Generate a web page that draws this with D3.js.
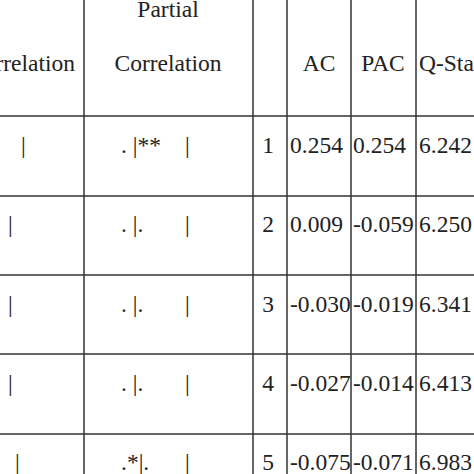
<!DOCTYPE html><html><head><meta charset="utf-8"><script src="https://cdn.jsdelivr.net/npm/d3@7"></script>
<style>body{margin:0;background:#fff}svg{display:block}</style></head><body><svg width="474" height="474"></svg>
<script>
const lags=[1,2,3,4,5];
const acf=["0.254","0.009","-0.030","-0.027","-0.075"];
const pacf=["0.254","-0.059","-0.019","-0.014","-0.071"];
const qstat=["6.242","6.250","6.341","6.413","6.983"];
const pcBars=[". |**",". |.",". |.",". |.",".*|."];
const acBarX=[21,8,8,8,15];
const svg=d3.select("svg");
const y=d3.scaleBand().domain(lags).range([116,513]);
const F="Liberation Serif, Times New Roman, serif", fs=23.5, c="#222";
const vx=[84,253,287,351,416];
const hy=[116,196,275,354,434];
vx.forEach(x=>svg.append("line").attr("x1",x).attr("x2",x).attr("y1",-5).attr("y2",480).attr("stroke","#333").attr("stroke-width",1.5));
hy.forEach(v=>svg.append("line").attr("x1",0).attr("x2",474).attr("y1",v).attr("y2",v).attr("stroke","#333").attr("stroke-width",1.5));
function t(x,yy,s,anchor){return svg.append("text").attr("x",x).attr("y",yy).attr("font-family",F).attr("font-size",fs).attr("fill",c).attr("text-anchor",anchor||"start").attr("xml:space","preserve").text(s);}
t(75,71,"Correlation","end");
t(168,17,"Partial","middle");
t(168,71,"Correlation","middle");
t(319,71,"AC","middle");
t(383,71,"PAC","middle");
t(419,71,"Q-Stat");
lags.forEach((l,i)=>{
  const cy=y(l)+y.bandwidth()/2-11;
  const b=cy+8;
  t(acBarX[i],b,"|");
  t(121,b,pcBars[i]);
  t(185,b,"|");
  t(268,b,String(l),"middle");
  t(290,b,acf[i]);
  t(353,b,pacf[i]);
  t(419,b,qstat[i]);
});
</script></body></html>
